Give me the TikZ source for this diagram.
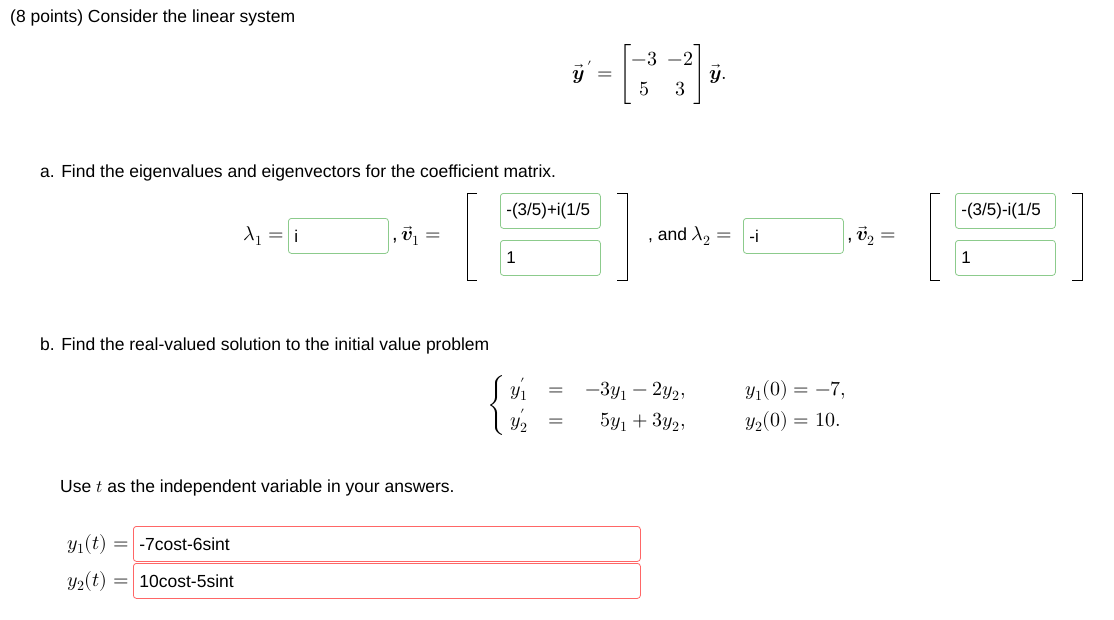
\documentclass[tikz,border=0pt]{standalone}
\usepackage{fontspec}
\setmainfont{Liberation Sans}
\usepackage{amsmath}
\usepackage{unicode-math}
\setmathfont{Latin Modern Math}
\begin{document}
\begin{tikzpicture}[x=1pt,y=-1pt,
  txt/.style={anchor=west,inner sep=0pt,font=\fontsize{17.5}{21}\selectfont},
  gbox/.style={draw=green!55!black!45,line width=0.8pt,rounded corners=3pt,fill=white,minimum width=100pt,minimum height=35pt,anchor=north west,text width=88pt,align=left,font=\fontsize{17}{20}\selectfont},
  rbox/.style={draw=red!60,line width=0.8pt,rounded corners=3pt,fill=white,minimum width=507pt,minimum height=35pt,anchor=north west,text width=495pt,align=left,font=\fontsize{17.5}{21}\selectfont},
  m/.style={inner sep=0pt,font=\fontsize{20}{24}\selectfont},
  brk/.style={line width=1pt}]
\useasboundingbox (0,0) rectangle (1114,619);
\node[txt] (t1) at (10,18) {(8 points) Consider the linear system};
\node[m] (eq) at (650,74) {$\symbfit{\vec y}^{\,\prime}=\renewcommand{\arraystretch}{1.25}\begin{bmatrix}-3&-2\\5&3\end{bmatrix}\symbfit{\vec y}.$};
\node[txt] (ta) at (40,173) {a. Find the eigenvalues and eigenvectors for the coefficient matrix.};
\node[m,anchor=east] (l1) at (284,236) {$\lambda_1=$};
\node[gbox] (b1) at (288,218) {i};
\node[m,anchor=west] (v1) at (392,236) {,\,$\symbfit{\vec v}_1=$};
\draw[brk] (477,193) -- (467,193) -- (467,280) -- (477,280);
\node[gbox] (b2) at (500,193) {-(3/5)+i(1/5};
\node[gbox] (b3) at (500,240) {1};
\draw[brk] (617,193) -- (627,193) -- (627,280) -- (617,280);
\node[m,anchor=west] (l2) at (648,236) {\fontsize{17.5}{21}\selectfont, and \fontsize{20}{24}\selectfont$\lambda_2=$};
\node[gbox] (b4) at (743,218) {-i};
\node[m,anchor=west] (v2) at (847,236) {,\,$\symbfit{\vec v}_2=$};
\draw[brk] (940,193) -- (930,193) -- (930,280) -- (940,280);
\node[gbox] (b5) at (955,193) {-(3/5)-i(1/5};
\node[gbox] (b6) at (955,240) {1};
\draw[brk] (1072,193) -- (1082,193) -- (1082,280) -- (1072,280);
\node[txt] (tb) at (40,346) {b. Find the real-valued solution to the initial value problem};
\node[m] (sys) at (670,405) {$\renewcommand{\arraystretch}{1.3}\left\{\begin{array}{lcrcl}y_1^{\prime}&\;\;=\;\;&-3y_1-2y_2,&\qquad&y_1(0)=-7,\\ y_2^{\prime}&=&5y_1+3y_2,&&y_2(0)=10.\end{array}\right.$};
\node[txt] (tu) at (60,488) {Use $t$ as the independent variable in your answers.};
\node[m,anchor=east] (y1) at (129,544) {$y_1(t)=$};
\node[rbox] (r1) at (133,526) {-7cost-6sint};
\node[m,anchor=east] (y2) at (129,581) {$y_2(t)=$};
\node[rbox] (r2) at (133,563) {10cost-5sint};
\end{tikzpicture}
\end{document}
